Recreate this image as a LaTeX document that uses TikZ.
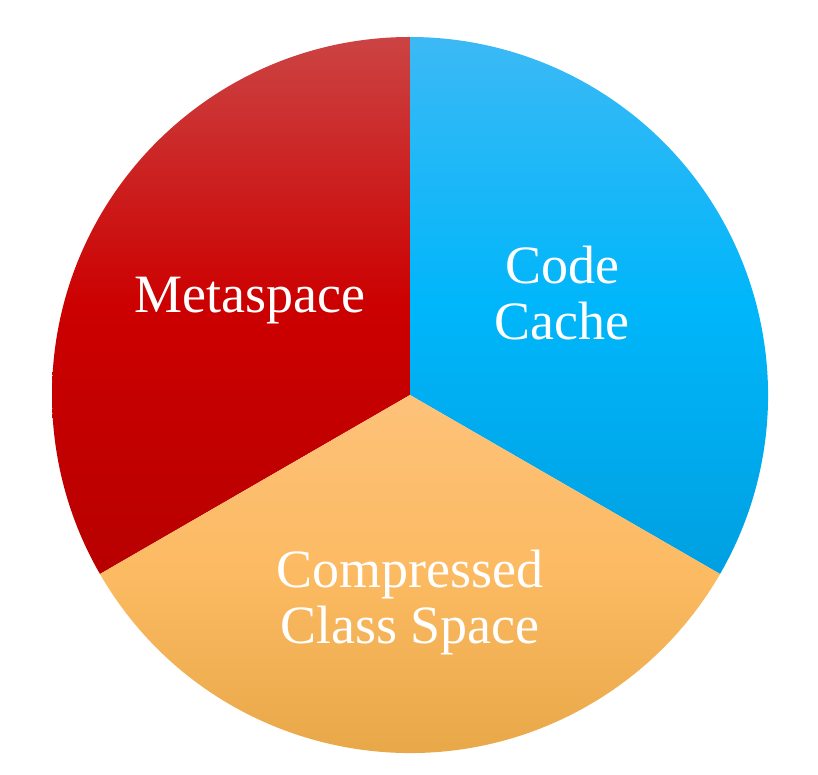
\documentclass[tikz,border=0pt]{standalone}
\usepackage{fontspec}
\setmainfont{Liberation Serif}
\begin{document}
\begin{tikzpicture}[x=1pt,y=1pt,
  lab/.style={text=white,font=\fontsize{54}{56}\selectfont,align=center}]
\useasboundingbox (0,0) rectangle (818,775);
\coordinate (c) at (410,380);
\def\R{358}
% red
\begin{scope}
\clip (c) -- ++(90:\R) arc[start angle=90,end angle=210,radius=\R] -- cycle;
\shade[top color={rgb,255:red,204;green,68;blue,68},bottom color={rgb,255:red,184;green,0;blue,0},middle color={rgb,255:red,204;green,0;blue,0}] (40,200) rectangle (420,740);
\end{scope}
% blue
\begin{scope}
\clip (c) -- ++(-30:\R) arc[start angle=-30,end angle=90,radius=\R] -- cycle;
\shade[top color={rgb,255:red,60;green,185;blue,245},bottom color={rgb,255:red,0;green,160;blue,225},middle color={rgb,255:red,0;green,182;blue,250}] (400,200) rectangle (780,740);
\end{scope}
% orange
\begin{scope}
\clip (c) -- ++(210:\R) arc[start angle=210,end angle=330,radius=\R] -- cycle;
\shade[top color={rgb,255:red,253;green,194;blue,122},bottom color={rgb,255:red,232;green,168;blue,72},middle color={rgb,255:red,252;green,186;blue,98}] (90,20) rectangle (730,385);
\end{scope}
\node[lab] (meta) at (250,474) {Metaspace};
\node[lab] (code) at (562,482) {Code\\Cache};
\node[lab] (ccs) at (410,172) {Compressed\\Class Space};
\end{tikzpicture}
\end{document}
